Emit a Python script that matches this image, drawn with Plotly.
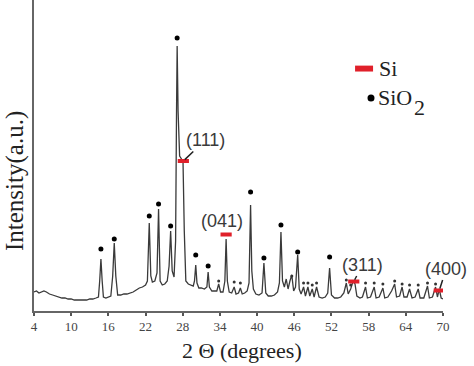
import plotly.graph_objects as go

# XRD pattern (2theta in degrees, intensity in arbitrary units)
two_theta = [4.0, 4.4, 4.8, 5.2, 5.6, 6.0, 6.5, 7.0, 7.5, 8.0, 8.5, 9.0, 9.5, 10.0, 10.5, 11.0, 11.5, 12.0,
             12.5, 13.0, 13.5, 14.0, 14.4, 14.6, 14.8, 15.0, 15.2, 15.6, 16.0, 16.4, 16.7, 16.95, 17.2, 17.5,
             18.0, 18.5, 19.0, 19.5, 20.0, 20.5, 21.0, 21.5, 22.0, 22.3, 22.6, 22.85, 23.1, 23.5, 23.85, 24.1,
             24.35, 24.7, 25.1, 25.5, 25.8, 26.05, 26.3, 26.6, 26.85, 27.0, 27.1, 27.25, 27.5, 27.8, 28.05,
             28.25, 28.5, 28.9, 29.3, 29.7, 29.9, 30.1, 30.3, 30.6, 31.0, 31.5, 31.9, 32.1, 32.3, 32.7, 33.1,
             33.5, 33.8, 34.1, 34.5, 34.8, 35.0, 35.2, 35.5, 35.9, 36.3, 36.6, 37.0, 37.3, 37.6, 38.0, 38.4,
             38.7, 38.95, 39.15, 39.4, 39.8, 40.3, 40.8, 41.1, 41.4, 41.8, 42.3, 42.8, 43.3, 43.6, 43.85, 44.1,
             44.4, 44.7, 45.0, 45.3, 45.6, 45.9, 46.2, 46.55, 46.8, 47.1, 47.5, 47.8, 48.2, 48.5, 48.9, 49.2,
             49.6, 50.0, 50.5, 51.0, 51.4, 51.7, 52.0, 52.5, 53.0, 53.5, 54.0, 54.4, 54.7, 55.1, 55.5, 55.8,
             56.1, 56.6, 57.0, 57.5, 57.8, 58.3, 58.9, 59.2, 59.7, 60.3, 60.6, 61.1, 61.7, 62.2, 62.5, 63.0,
             63.4, 63.7, 64.2, 64.6, 65.0, 65.5, 66.0, 66.3, 66.9, 67.5, 67.8, 68.3, 68.8, 69.1, 69.4, 69.7, 70.0]
intensity = [19, 20, 18, 19, 20, 19, 17, 16, 15, 14, 13, 13, 12, 12, 11, 11, 11, 11,
             11, 12, 12, 13, 14, 30, 52, 30, 14, 13, 14, 15, 35, 68, 35, 16,
             16, 17, 17, 18, 19, 21, 23, 24, 26, 30, 88, 35, 29, 30, 38, 102,
             30, 26, 27, 30, 45, 80, 40, 34, 70, 200, 265, 200, 155, 152, 148,
             80, 30, 27, 26, 25, 30, 46, 28, 23, 23, 22, 24, 39, 24, 20, 20,
             20, 27, 19, 19, 30, 72, 30, 19, 18, 24, 17, 18, 23, 17, 18, 20,
             28, 106, 40, 22, 17, 16, 18, 48, 18, 15, 15, 16, 19, 28, 79, 30,
             24, 32, 22, 30, 36, 20, 24, 56, 22, 17, 24, 15, 24, 15, 22, 14,
             24, 14, 13, 14, 18, 43, 16, 13, 13, 14, 18, 28, 17, 22, 30, 27,
             15, 13, 14, 24, 13, 14, 24, 13, 14, 23, 13, 14, 20, 27, 14, 15,
             24, 14, 14, 22, 13, 14, 22, 13, 13, 25, 13, 14, 24, 14, 22, 13, 12]

# SiO2 peak markers (dots)
sio2_major_x = [14.8, 16.95, 22.6, 24.1, 26.05, 27.1, 30.1, 32.1, 38.95, 41.1, 43.85, 46.55, 51.7]
sio2_major_y = [62, 72, 95, 107, 85, 273, 56, 45, 119, 53, 86, 59, 54]
sio2_minor_x = [33.8, 36.3, 37.3, 45.6, 47.5, 48.2, 48.9, 49.6, 54.4, 55.1, 57.5, 58.9, 60.3, 62.2,
                63.4, 64.6, 66.0, 67.5, 68.8]
sio2_minor_y = [30, 29, 28, 35, 28, 28, 26, 28, 31, 26, 28, 28, 27, 30, 27, 26, 26, 28, 27]

# Si peaks (red bars) and their labels
si_x = [28.1, 35.0, 55.6, 69.4]
si_y = [150, 76.5, 29.5, 20.5]
si_labels = ["(111)", "(041)", "(311)", "(400)"]

x_ticks = [4, 10, 16, 22, 28, 34, 40, 46, 52, 58, 64, 70]

fig = go.Figure()
fig.add_trace(go.Scatter(x=two_theta, y=intensity, mode="lines",
                         line=dict(color="#3a3a3a", width=1.3), hoverinfo="skip"))
fig.add_trace(go.Scatter(x=sio2_major_x, y=sio2_major_y, mode="markers",
                         marker=dict(color="black", size=5)))
fig.add_trace(go.Scatter(x=sio2_minor_x, y=sio2_minor_y, mode="markers",
                         marker=dict(color="#333", size=3)))
fig.add_trace(go.Scatter(x=si_x, y=si_y, mode="markers",
                         marker=dict(symbol="line-ew", size=8, color="#e0202a",
                                     line=dict(color="#e0202a", width=4))))

label_font = dict(family="Liberation Sans", size=18, color="#3a3a3a")
# label offsets (pixels from the red bar to the label centre) and leader lines
offsets = [(22, -21, True), (-4, -14, False), (9, -17, True), (7, -22, True)]
for xv, yv, lab, (ax, ay, arrow) in zip(si_x, si_y, si_labels, offsets):
    fig.add_annotation(x=xv, y=yv, xref="x", yref="y", text=lab, font=label_font,
                       showarrow=True, ax=ax, ay=ay, arrowhead=0, arrowwidth=1.5,
                       arrowcolor="#222" if arrow else "rgba(0,0,0,0)", standoff=2)

serif = "Liberation Serif"
# legend
fig.add_shape(type="rect", xref="paper", yref="paper", x0=0.785, x1=0.829, y0=0.770, y1=0.789,
              fillcolor="#e0202a", line=dict(width=0))
fig.add_shape(type="circle", xref="paper", yref="paper", x0=(367.5-34)/409, x1=(374.5-34)/409,
              y0=(311-101.5)/311, y1=(311-94.5)/311, fillcolor="black", line=dict(width=0))
fig.add_annotation(x=(377-34)/409, y=(311-68)/311, xref="paper", yref="paper", text="Si",
                   xanchor="left", yanchor="middle", showarrow=False,
                   font=dict(family=serif, size=22, color="#222"))
fig.add_annotation(x=(376-34)/409, y=(311-98)/311, xref="paper", yref="paper", text="SiO",
                   xanchor="left", yanchor="middle", showarrow=False,
                   font=dict(family=serif, size=22, color="#222"))
fig.add_annotation(x=(412-34)/409, y=(311-108)/311, xref="paper", yref="paper", text="2",
                   xanchor="left", yanchor="middle", showarrow=False,
                   font=dict(family=serif, size=22, color="#222"))

# axis titles
fig.add_annotation(x=(242-34)/409, y=(311-350)/311, xref="paper", yref="paper",
                   text="2 Θ (degrees)", showarrow=False, xanchor="center", yanchor="middle",
                   font=dict(family=serif, size=22, color="#222"))
fig.add_annotation(x=(15-34)/409, y=(311-181)/311, xref="paper", yref="paper",
                   text="Intensity(a.u.)", showarrow=False, textangle=-90,
                   xanchor="center", yanchor="middle",
                   font=dict(family=serif, size=25, color="#222"))

fig.update_layout(
    width=474, height=366, margin=dict(l=34, r=31, t=0, b=55),
    plot_bgcolor="white", paper_bgcolor="white", showlegend=False,
    xaxis=dict(range=[4, 70], tickvals=x_ticks, ticks="outside", ticklen=3, tickwidth=1.5,
               tickcolor="#555", showline=True, linecolor="#666", linewidth=1.5,
               showgrid=False, zeroline=False,
               tickfont=dict(family=serif, size=13, color="#444")),
    yaxis=dict(range=[0, 311], showticklabels=False, ticks="", showline=True,
               linecolor="#666", linewidth=1.5, showgrid=False, zeroline=False),
)
fig.write_html("out.html")
